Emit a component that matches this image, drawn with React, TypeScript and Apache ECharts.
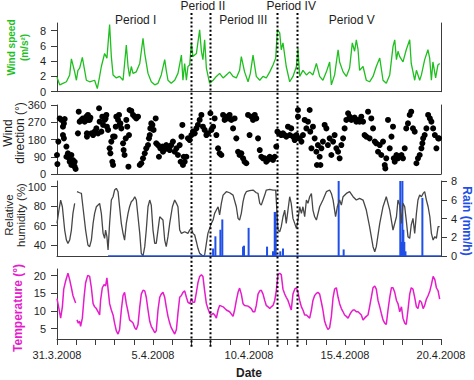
import React, { useEffect, useRef } from "react";
import * as echarts from "echarts";

// ---- Data (x = days since 31.3.2008 00:00) ----
const xTickDays = [0, 5, 10, 15, 20];
const xTickLabels = ["31.3.2008", "5.4.2008", "10.4.2008", "15.4.2008", "20.4.2008"];

const periodBoundaries = [7.0, 7.99, 11.46, 12.5];
const periodNames = ["Period I", "Period II", "Period III", "Period IV", "Period V"];
const periodLabelDays = [4.1, 7.6, 9.7, 12.2, 15.35];

const windSpeed: [number, number][] = [
  [0, 1.9], [0.14, 0.9], [0.31, 1.1], [0.49, 1.3], [0.66, 2.2], [0.75, 4.3], [0.92, 2.6], [1.01, 1.5], [1.09, 2.8], [1.18, 3.1],
  [1.32, 4.5], [1.44, 2.8], [1.53, 1.5], [1.7, 1.3], [1.96, 1.5], [2.1, 0.4], [2.22, 2.0], [2.31, 3.3], [2.48, 5.0], [2.6, 4.4],
  [2.74, 8.8], [2.83, 4.6], [2.92, 2.2], [3.09, 1.8], [3.26, 2.0], [3.44, 1.5], [3.61, 6.1], [3.7, 3.3], [3.78, 2.0], [3.87, 3.3],
  [3.96, 2.4], [4.13, 2.6], [4.31, 3.7], [4.48, 7.0], [4.57, 5.0], [4.74, 2.4], [4.91, 1.3], [5.09, 0.9], [5.26, 1.1], [5.43, 2.2],
  [5.61, 4.2], [5.69, 2.8], [5.78, 1.5], [5.95, 1.1], [6.13, 1.5], [6.3, 2.4], [6.48, 4.8], [6.56, 1.5], [6.65, 3.7], [6.74, 1.5],
  [6.82, 3.3], [6.91, 3.5], [7.0, 6.4], [7.08, 4.6], [7.26, 5.0], [7.43, 8.1], [7.52, 5.3], [7.6, 4.2], [7.69, 6.8], [7.78, 3.1],
  [7.95, 1.1], [8.13, 1.5], [8.3, 2.0], [8.47, 2.4], [8.65, 1.8], [8.82, 2.2], [8.99, 2.6], [9.17, 2.0], [9.34, 1.8], [9.51, 2.8],
  [9.6, 4.6], [9.77, 2.6], [9.95, 1.3], [10.07, 2.4], [10.21, 4.8], [10.38, 2.0], [10.56, 1.5], [10.73, 2.0], [10.9, 1.8], [11.08, 2.6],
  [11.25, 3.5], [11.39, 4.4], [11.48, 8.1], [11.6, 7.7], [11.68, 5.5], [11.77, 6.4], [11.94, 3.3], [12.12, 1.3], [12.29, 2.0], [12.47, 3.3],
  [12.55, 5.7], [12.64, 2.0], [12.81, 2.8], [12.99, 2.2], [13.16, 2.6], [13.33, 2.2], [13.51, 3.7], [13.68, 2.0], [13.85, 1.5], [14.03, 2.6],
  [14.2, 3.9], [14.29, 0.9], [14.46, 2.2], [14.64, 5.5], [14.72, 3.9], [14.9, 2.6], [15.07, 2.0], [15.24, 3.1], [15.38, 6.4], [15.5, 5.3],
  [15.59, 6.8], [15.68, 5.5], [15.76, 2.8], [15.94, 3.3], [16.11, 1.5], [16.28, 1.3], [16.46, 2.0], [16.63, 3.3], [16.81, 4.4], [16.98, 1.5],
  [17.15, 1.1], [17.33, 2.2], [17.5, 5.9], [17.59, 6.8], [17.68, 4.2], [17.76, 5.3], [17.85, 4.6], [18.02, 3.9], [18.19, 5.5], [18.37, 6.8],
  [18.45, 3.7], [18.63, 1.5], [18.72, 2.8], [18.89, 1.5], [18.98, 2.2], [19.15, 4.2], [19.32, 5.5], [19.41, 4.4], [19.5, 1.5], [19.58, 3.9],
  [19.72, 1.8], [19.84, 3.5], [19.93, 3.7],
];

const windDirection: [number, number][] = [
  [0.02, 52], [0.0, 99], [0.07, 169], [0.14, 290], [0.23, 282], [0.31, 203], [0.36, 186], [0.36, 264], [0.4, 287], [0.31, 247],
  [0.49, 143], [0.49, 90], [0.57, 108], [0.63, 82], [0.66, 64], [0.75, 99], [0.75, 47], [0.83, 73], [0.87, 56], [0.92, 38],
  [0.97, 26], [0.92, 64], [1.09, 212], [1.13, 325], [1.18, 273], [1.27, 282], [1.35, 290], [1.44, 273], [1.53, 299], [1.61, 308],
  [1.7, 282], [1.61, 282], [1.74, 294], [1.56, 212], [1.56, 195], [1.79, 212], [1.88, 203], [1.96, 221], [2.05, 238], [2.14, 212],
  [2.19, 343], [2.22, 273], [2.31, 221], [2.36, 299], [2.4, 256], [2.48, 282], [2.53, 290], [2.57, 308], [2.6, 247], [2.66, 230],
  [2.74, 134], [2.78, 108], [2.83, 169], [2.88, 64], [2.92, 47], [2.92, 195], [3.0, 195], [3.06, 247], [3.09, 299], [3.18, 282],
  [3.23, 308], [3.26, 256], [3.3, 264], [3.35, 238], [3.44, 160], [3.47, 125], [3.52, 99], [3.58, 186], [3.61, 282], [3.66, 247],
  [3.72, 38], [3.75, 203], [3.78, 334], [3.87, 329], [3.96, 308], [4.05, 299], [4.13, 290], [4.22, 299], [4.31, 47], [4.39, 56],
  [4.48, 82], [4.57, 108], [4.65, 134], [4.74, 151], [4.79, 186], [4.83, 203], [4.86, 238], [4.91, 264], [4.97, 256], [5.03, 230],
  [5.14, 290], [5.17, 160], [5.26, 151], [5.31, 90], [5.38, 134], [5.49, 143], [5.52, 116], [5.61, 128], [5.69, 151], [5.78, 134],
  [5.87, 125], [5.95, 151], [6.04, 169], [6.13, 116], [6.22, 134], [6.3, 99], [6.39, 151], [6.44, 64], [6.48, 195], [6.53, 256],
  [6.56, 47], [6.6, 90], [6.65, 64], [6.74, 90], [6.82, 186], [6.91, 177], [7.0, 203], [7.08, 221], [7.17, 212], [7.26, 238],
  [7.34, 256], [7.43, 282], [7.52, 308], [7.6, 247], [7.69, 230], [7.78, 203], [7.86, 212], [7.99, 317], [8.04, 230], [8.13, 247],
  [8.21, 290], [8.3, 203], [8.39, 134], [8.47, 108], [8.56, 99], [8.65, 308], [8.73, 282], [8.82, 299], [8.91, 290], [8.99, 308],
  [9.08, 282], [9.17, 238], [9.25, 290], [9.34, 186], [9.43, 116], [9.51, 99], [9.6, 108], [9.69, 82], [9.77, 64], [9.86, 56],
  [9.95, 308], [10.03, 203], [10.12, 299], [10.21, 282], [10.3, 308], [10.38, 290], [10.47, 186], [10.56, 125], [10.64, 90], [10.73, 82],
  [10.82, 82], [10.9, 64], [10.99, 73], [11.08, 90], [11.16, 82], [11.25, 73], [11.34, 90], [11.42, 143], [11.48, 221], [11.56, 212],
  [11.68, 203], [11.77, 212], [11.86, 203], [11.94, 195], [12.03, 247], [12.12, 203], [12.2, 238], [12.29, 195], [12.38, 177], [12.47, 203],
  [12.55, 334], [12.55, 299], [12.64, 186], [12.73, 169], [12.81, 203], [12.9, 282], [12.99, 238], [13.07, 273], [13.16, 334], [13.19, 221],
  [13.25, 134], [13.33, 247], [13.42, 186], [13.51, 116], [13.54, 47], [13.59, 151], [13.68, 90], [13.72, 47], [13.77, 134], [13.85, 169],
  [13.94, 256], [14.03, 238], [14.11, 151], [14.2, 186], [14.29, 99], [14.38, 169], [14.46, 203], [14.55, 134], [14.64, 116], [14.72, 82],
  [14.81, 151], [14.9, 186], [14.98, 238], [15.07, 282], [15.16, 317], [15.24, 299], [15.33, 282], [15.42, 290], [15.5, 294], [15.59, 273],
  [15.68, 282], [15.76, 273], [15.85, 299], [15.94, 273], [16.02, 203], [16.11, 195], [16.2, 325], [16.28, 186], [16.37, 290], [16.46, 238],
  [16.55, 169], [16.63, 160], [16.72, 116], [16.81, 151], [16.89, 99], [16.98, 169], [17.07, 47], [17.1, 29], [17.15, 82], [17.24, 282],
  [17.33, 134], [17.42, 195], [17.5, 247], [17.54, 82], [17.59, 64], [17.68, 99], [17.76, 82], [17.85, 90], [17.94, 99], [18.02, 82],
  [18.11, 134], [18.19, 238], [18.28, 264], [18.37, 308], [18.45, 325], [18.54, 238], [18.63, 221], [18.72, 56], [18.8, 82], [18.89, 99],
  [18.98, 134], [19.03, 160], [19.07, 186], [19.15, 203], [19.24, 238], [19.33, 308], [19.42, 290], [19.5, 273], [19.59, 238], [19.68, 203],
  [19.76, 134], [19.85, 186], [19.9, 186],
];

const humidity: [number, number | string][] = [
  [0, 62.3], [0.1, 76], [0.19, 86.3], [0.28, 79.4], [0.4, 55.4], [0.49, 45.1], [0.57, 41.7], [0.66, 45.1], [0.75, 55.4], [0.83, 72.6],
  [0.92, 82.9], [0.98, "-"], [1.04, 94.9], [1.18, 93.8], [1.27, 93.1], [1.35, 79.4], [1.49, 55.4], [1.61, 40], [1.7, 38.3], [1.79, 45.1],
  [1.88, 62.3], [1.96, 72.6], [2.05, 79.4], [2.14, 81.1], [2.22, 82.9], [2.31, 72.6], [2.4, 52], [2.48, 46.9], [2.53, 55.4], [2.6, 48.6],
  [2.66, 34.9], [2.74, 62.3], [2.83, 86.3], [2.92, 89.7], [3.0, 96.6], [3.09, 98.3], [3.18, 94.9], [3.26, 79.4], [3.35, 62.3], [3.44, 52],
  [3.52, 45.1], [3.61, 62.3], [3.7, 72.6], [3.78, 79.4], [3.87, 84.6], [3.96, 86.3], [4.05, 89.7], [4.13, 86.3], [4.22, 69.1], [4.31, 52],
  [4.39, 31.4], [4.48, 28.7], [4.57, 38.3], [4.65, 55.4], [4.74, 79.4], [4.83, 86.3], [4.91, 81.1], [5.0, 55.4], [5.09, 41.7], [5.17, 41.7],
  [5.26, 55.4], [5.35, 69.1], [5.52, 65.7], [5.61, 45.1], [5.69, 38.3], [5.78, 48.6], [5.87, 62.3], [6.01, 79.4], [6.13, 86.3], [6.22, 82.9],
  [6.3, 79.4], [6.39, 55.4], [6.48, 52], [6.65, 53.7], [6.82, 52], [6.91, 55.4], [7.0, 57.1], [7.08, 52], [7.17, 50.3], [7.26, 43.4],
  [7.34, 36.6], [7.43, 31.4], [7.6, 28.7], [7.69, 29.7], [7.78, 41.7], [7.86, 52], [7.95, 57.1], [8.04, 62.3], [8.13, 65.7], [8.21, 72.6],
  [8.3, 76], [8.39, 79.4], [8.47, 70.9], [8.56, 82.9], [8.65, 91.4], [8.82, 94.9], [8.99, 93.8], [9.17, 91.4], [9.34, 79.4], [9.43, 67.4],
  [9.51, 65.7], [9.6, 72.6], [9.69, 84.6], [9.77, 91.4], [9.86, 94.9], [10.03, 95.9], [10.21, 96.6], [10.38, 93.8], [10.47, 93.1], [10.56, 82.9],
  [10.64, 81.1], [10.73, 86.3], [10.82, 91.4], [10.9, 96.6], [11.08, 97.3], [11.25, 96.6], [11.39, 96.6], [11.42, 86.3], [11.51, 55.4], [11.6, 53.7],
  [11.68, 58.9], [11.77, 69.1], [11.86, 76], [11.94, 62.3], [12.03, 76], [12.12, 89.7], [12.2, 82.9], [12.29, 67.4], [12.38, 62.3], [12.47, 57.1],
  [12.55, 65.7], [12.64, 79.4], [12.73, 72.6], [12.81, 79.4], [12.9, 69.1], [12.99, 86.3], [13.07, 82.9], [13.16, 89.7], [13.25, 93.1], [13.33, 76],
  [13.42, 69.1], [13.51, 65.7], [13.68, 79.4], [13.85, 86.3], [14.03, 94.9], [14.2, 96.6], [14.29, 93.1], [14.38, 86.3], [14.51, 69.1], [14.6, 79.4],
  [14.72, 86.3], [14.81, 81.1], [14.9, 89.7], [15.07, 93.1], [15.24, 94.9], [15.42, 89.7], [15.59, 86.3], [15.76, 88], [15.94, 86.3], [16.11, 76],
  [16.28, 58.9], [16.46, 38.3], [16.55, 33.1], [16.63, 38.3], [16.81, 62.3], [16.98, 79.4], [17.15, 89.7], [17.33, 76], [17.5, 55.4], [17.68, 69.1],
  [17.76, 86.3], [17.85, 81.1], [17.94, 62.3], [18.02, 82.9], [18.11, 79.4], [18.19, 65.7], [18.28, 48.6], [18.37, 46.9], [18.45, 60.6], [18.54, 67.4],
  [18.63, 52], [18.72, 72.6], [18.8, 86.3], [18.89, 91.4], [18.98, 89.7], [19.07, 93.1], [19.15, 94.9], [19.24, 86.3], [19.33, 79.4], [19.42, 69.1],
  [19.5, 52], [19.59, 45.1], [19.68, 48.6], [19.76, 46.9], [19.85, 58.9], [19.93, 58.9],
];

const rainRecord: [number, number][] = [[2.66, 0], [20, 0]];
const rain: [number, number][] = [
  [8.13, 0.8], [8.25, 2.1], [8.51, 2.8], [8.61, 3.9], [9.69, 1.0], [9.74, 1.1], [9.98, 3.0], [10.94, 1.0], [11.25, 0.5], [11.34, 4.7],
  [11.39, 4.7], [11.63, 0.5], [11.77, 0.8], [14.67, 8.0], [14.93, 0.7], [17.88, 8.0], [17.94, 1.5], [17.99, 8.0], [18.04, 2.8], [18.09, 1.5],
  [18.15, 0.5], [19.03, 6.2],
];

const temperature: [number, number | string][] = [
  [0, 13.5], [0.1, 10.7], [0.19, 8.0], [0.28, 11.2], [0.35, 16.2], [0.45, 18.5], [0.57, 20.7], [0.66, 18.9], [0.75, 16.6], [0.83, 14.4],
  [0.97, 12.3], [1.0, "-"], [1.04, 7.5], [1.11, 6.6], [1.18, 7.1], [1.23, 5.7], [1.32, 8.0], [1.41, 13.9], [1.49, 18.0], [1.6, 20.1],
  [1.7, 19.8], [1.79, 16.6], [1.88, 12.1], [1.96, 11.2], [2.05, 10.7], [2.14, 9.8], [2.22, 8.9], [2.27, 13.0], [2.36, 16.6], [2.45, 17.5],
  [2.53, 17.1], [2.6, 19.4], [2.67, 15.7], [2.74, 12.1], [2.83, 10.3], [2.92, 8.9], [3.0, 6.6], [3.09, 4.4], [3.18, 3.5], [3.26, 4.8],
  [3.35, 10.3], [3.44, 14.4], [3.52, 15.3], [3.61, 12.1], [3.7, 9.8], [3.78, 7.5], [3.87, 7.1], [3.96, 6.6], [4.05, 5.3], [4.13, 4.8],
  [4.22, 6.2], [4.31, 11.2], [4.39, 14.8], [4.48, 15.9], [4.57, 15.7], [4.65, 13.9], [4.74, 10.3], [4.83, 7.1], [4.91, 5.7], [5.0, 4.8],
  [5.09, 3.9], [5.17, 4.4], [5.26, 10.3], [5.35, 13.9], [5.43, 14.8], [5.52, 15.3], [5.61, 13.9], [5.69, 11.2], [5.78, 8.5], [5.87, 6.6],
  [5.95, 5.3], [6.04, 4.4], [6.13, 3.5], [6.22, 4.8], [6.3, 9.4], [6.39, 13.9], [6.48, 14.4], [6.56, 15.3], [6.65, 15.7], [6.74, 13.9],
  [6.82, 12.5], [6.91, 12.1], [7.0, 13.5], [7.08, 12.5], [7.17, 12.5], [7.26, 15.3], [7.34, 18.0], [7.43, 19.8], [7.52, 20.3], [7.6, 19.8],
  [7.69, 15.7], [7.78, 12.1], [7.86, 10.7], [7.95, 9.4], [8.04, 8.9], [8.13, 9.4], [8.21, 8.9], [8.3, 8.0], [8.39, 10.3], [8.47, 11.6],
  [8.65, 11.2], [8.82, 10.3], [8.99, 9.8], [9.17, 8.5], [9.25, 10.3], [9.34, 13.0], [9.43, 15.3], [9.51, 16.5], [9.6, 14.8], [9.69, 12.1],
  [9.77, 11.6], [9.95, 11.4], [10.12, 10.7], [10.21, 9.8], [10.3, 9.8], [10.38, 11.6], [10.47, 14.8], [10.56, 15.7], [10.64, 15.9], [10.73, 14.8],
  [10.82, 13.0], [10.9, 11.6], [10.99, 11.2], [11.08, 10.7], [11.16, 11.2], [11.25, 11.6], [11.34, 13.0], [11.42, 15.7], [11.51, 20.3], [11.6, 20.7],
  [11.68, 20.3], [11.77, 16.2], [11.86, 14.8], [11.94, 13.9], [12.03, 13.0], [12.12, 11.6], [12.2, 10.3], [12.29, 14.8], [12.38, 16.2], [12.47, 16.6],
  [12.55, 15.3], [12.64, 13.0], [12.73, 11.2], [12.81, 10.3], [12.9, 8.9], [12.99, 8.9], [13.16, 8.0], [13.25, 10.3], [13.33, 13.0], [13.42, 14.4],
  [13.51, 15.0], [13.59, 15.3], [13.68, 14.8], [13.77, 12.5], [13.85, 10.3], [13.94, 7.1], [14.03, 5.7], [14.11, 4.8], [14.2, 5.3], [14.29, 8.5],
  [14.38, 13.9], [14.46, 16.2], [14.55, 16.6], [14.64, 13.9], [14.72, 12.1], [14.81, 10.7], [14.9, 9.8], [14.98, 8.9], [15.07, 8.5], [15.16, 8.0],
  [15.24, 8.9], [15.33, 9.8], [15.42, 10.3], [15.5, 10.3], [15.59, 9.8], [15.68, 9.8], [15.76, 9.4], [15.85, 8.9], [15.94, 7.5], [16.02, 8.0],
  [16.11, 8.5], [16.2, 8.9], [16.28, 11.2], [16.37, 13.9], [16.46, 16.6], [16.55, 17.1], [16.63, 16.2], [16.72, 13.0], [16.81, 11.2], [16.89, 9.4],
  [16.98, 7.5], [17.07, 6.6], [17.15, 6.2], [17.24, 10.3], [17.33, 13.9], [17.42, 16.6], [17.5, 16.6], [17.59, 15.3], [17.68, 13.0], [17.76, 12.1],
  [17.85, 9.8], [17.94, 11.2], [18.02, 8.0], [18.11, 6.6], [18.19, 6.2], [18.28, 10.3], [18.37, 14.8], [18.45, 16.6], [18.54, 16.2], [18.63, 13.9],
  [18.72, 11.2], [18.8, 10.7], [18.89, 13.0], [18.98, 12.5], [19.07, 10.7], [19.15, 11.6], [19.24, 13.4], [19.33, 14.4], [19.42, 15.7], [19.5, 17.5],
  [19.59, 19.8], [19.68, 18.9], [19.76, 16.6], [19.85, 15.7], [19.93, 13.4],
];

const windSpeedTicks = [0, 2, 4, 6, 8];
const windDirTicks = [0, 90, 180, 270, 360];
const humidityTicks = [40, 60, 80, 100];
const rainTicks = [0, 2, 4, 6, 8];
const temperatureTicks = [5, 10, 15, 20];

const FONT = "'Liberation Sans', Arial, Helvetica, sans-serif";
const AXIS = "#3c3c3c";
const TXT = "#1e1e1e";
const GREEN = "#1fbf1f";
const MAGENTA = "#e61ccc";
const BLUE = "#1f4fe6";

function xAxisFor(gridIndex: number, withLabels: boolean) {
  return {
    type: "value",
    gridIndex,
    min: 0,
    max: 20,
    interval: 1,
    axisLine: { show: true, onZero: false, lineStyle: { color: AXIS, width: 1 } },
    axisTick: { show: withLabels, inside: false, length: 6, lineStyle: { color: AXIS } },
    axisLabel: withLabels
      ? {
          show: true,
          customValues: xTickDays,
          margin: 10,
          fontSize: 11,
          fontFamily: FONT,
          color: TXT,
          formatter: (v: number) => {
            const i = xTickDays.indexOf(Math.round(v));
            return i >= 0 ? xTickLabels[i] : "";
          },
        }
      : { show: false },
    splitLine: { show: false },
    name: withLabels ? "Date" : "",
    nameLocation: "middle",
    nameGap: 28,
    nameTextStyle: { fontFamily: FONT, fontSize: 12, fontWeight: "bold", color: TXT },
  };
}

function leftAxis(gridIndex: number, min: number, max: number, ticks: number[]) {
  return {
    type: "value",
    gridIndex,
    position: "left",
    min,
    max,
    axisLine: { show: true, onZero: false, lineStyle: { color: AXIS, width: 1 } },
    axisTick: { show: true, inside: false, length: 6, customValues: ticks, lineStyle: { color: AXIS } },
    axisLabel: { show: true, customValues: ticks, margin: 11, fontSize: 11, fontFamily: FONT, color: TXT },
    splitLine: { show: false },
  };
}

function rightLine(gridIndex: number, min: number, max: number) {
  return {
    type: "value",
    gridIndex,
    position: "right",
    min,
    max,
    axisLine: { show: true, onZero: false, lineStyle: { color: AXIS, width: 1 } },
    axisTick: { show: false },
    axisLabel: { show: false },
    splitLine: { show: false },
  };
}

export default function App() {
  const ref = useRef<HTMLDivElement>(null);

  useEffect(() => {
    if (!ref.current) return;
    const chart = echarts.init(ref.current, null, { renderer: "svg" });
    const option: any = {
      animation: false,
      backgroundColor: "#ffffff",
      grid: [
        { left: 57, right: 33, top: 23, height: 68.7 },
        { left: 57, right: 33, top: 105, height: 69 },
        { left: 57, right: 33, top: 181, height: 75 },
        { left: 57, right: 33, top: 269, height: 72.7 },
      ],
      xAxis: [xAxisFor(0, false), xAxisFor(1, false), xAxisFor(2, false), xAxisFor(3, true)],
      yAxis: [
        leftAxis(0, 0, 9, windSpeedTicks),
        rightLine(0, 0, 9),
        leftAxis(1, 0, 360, windDirTicks),
        rightLine(1, 0, 360),
        leftAxis(2, 28.7, 105.9, humidityTicks),
        {
          type: "value",
          gridIndex: 2,
          position: "right",
          min: 0,
          max: 8,
          axisLine: { show: true, onZero: false, lineStyle: { color: AXIS, width: 1 } },
          axisTick: { show: true, inside: false, length: 6, customValues: rainTicks, lineStyle: { color: AXIS } },
          axisLabel: { show: true, customValues: rainTicks, margin: 10, fontSize: 11, fontFamily: FONT, color: TXT },
          splitLine: { show: false },
        },
        leftAxis(3, 2.1, 21.9, temperatureTicks),
      ],
      series: [
        {
          type: "line",
          xAxisIndex: 0,
          yAxisIndex: 0,
          data: windSpeed,
          showSymbol: false,
          symbol: "none",
          lineStyle: { color: GREEN, width: 1.3 },
        },
        {
          type: "scatter",
          xAxisIndex: 1,
          yAxisIndex: 2,
          data: windDirection,
          symbol: "circle",
          symbolSize: 6,
          itemStyle: { color: "#000000", opacity: 1 },
        },
        {
          type: "line",
          xAxisIndex: 2,
          yAxisIndex: 4,
          data: humidity,
          showSymbol: false,
          symbol: "none",
          connectNulls: false,
          lineStyle: { color: "#474747", width: 1.3 },
        },
        {
          type: "line",
          xAxisIndex: 2,
          yAxisIndex: 5,
          data: rainRecord,
          showSymbol: false,
          symbol: "none",
          lineStyle: { color: BLUE, width: 1.6 },
        },
        {
          type: "bar",
          xAxisIndex: 2,
          yAxisIndex: 5,
          data: rain,
          barWidth: 2,
          itemStyle: { color: BLUE },
        },
        {
          type: "line",
          xAxisIndex: 3,
          yAxisIndex: 6,
          data: temperature,
          showSymbol: false,
          symbol: "none",
          connectNulls: false,
          lineStyle: { color: MAGENTA, width: 1.5 },
        },
      ],
    };
    chart.setOption(option);

    const px = (d: number) => chart.convertToPixel({ xAxisIndex: 3 }, d) as number;
    const periodRowY = [20, 6, 20, 6, 20];
    const graphic: any[] = [];
    periodBoundaries.forEach((d) => {
      const x = Math.round(px(d)) + 0.5;
      graphic.push({
        type: "line",
        silent: true,
        z: 100,
        shape: { x1: x, y1: 13, x2: x, y2: 347 },
        style: { stroke: "#000000", lineWidth: 2, lineDash: [2, 2.2] },
      });
    });
    periodNames.forEach((name, i) => {
      graphic.push({
        type: "text",
        x: px(periodLabelDays[i]),
        y: periodRowY[i],
        z: 100,
        style: {
          text: name,
          fill: TXT,
          font: `12px ${FONT}`,
          align: "center",
          verticalAlign: "middle",
          textAlign: "center",
          textVerticalAlign: "middle",
        },
      });
    });
    const title = (text: string, x: number, y: number, rot: number, fill: string, font: string, lh: number) => ({
      type: "text",
      x,
      y,
      rotation: rot,
      z: 100,
      style: {
        text,
        fill,
        font,
        lineHeight: lh,
        align: "center",
        verticalAlign: "middle",
        textAlign: "center",
        textVerticalAlign: "middle",
      },
    });
    graphic.push(title("Wind speed\n(m/s²)", 17.5, 47.5, Math.PI / 2, GREEN, `bold 10px ${FONT}`, 13));
    graphic.push(title("Wind\ndirection (°)", 14, 133, Math.PI / 2, TXT, `12px ${FONT}`, 12));
    graphic.push(title("Relative\nhumidity (%)", 15, 215, Math.PI / 2, "#2a2a2a", `11.5px ${FONT}`, 12));
    graphic.push(title("Temperature (°)", 17.5, 308, Math.PI / 2, MAGENTA, `bold 12px ${FONT}`, 14));
    graphic.push(title("Rain (mm/h)", 466.5, 221, -Math.PI / 2, BLUE, `bold 12px ${FONT}`, 13));
    chart.setOption({ graphic });

    return () => chart.dispose();
  }, []);

  return (
    <div
      ref={ref}
      style={{ position: "fixed", left: 0, top: 0, width: 474, height: 380, background: "#fff" }}
    />
  );
}
